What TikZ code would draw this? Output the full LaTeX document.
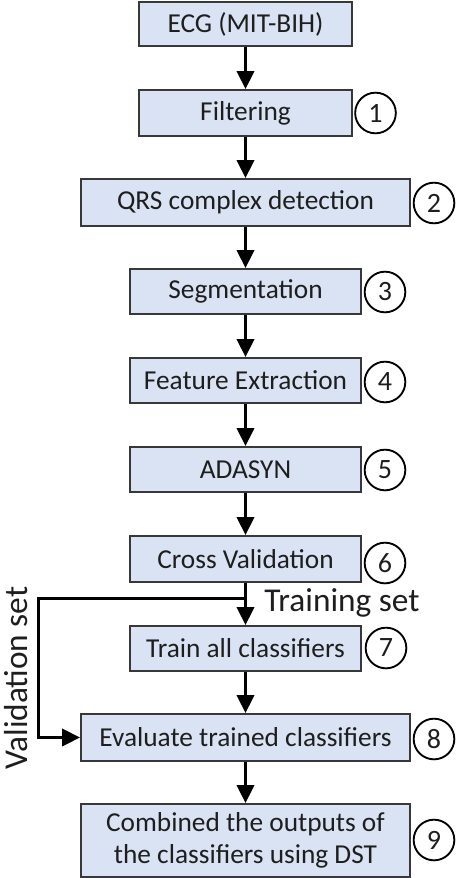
\documentclass[tikz,border=0pt]{standalone}
\usepackage{fontspec}
\setmainfont{Carlito}
\usetikzlibrary{arrows.meta}
\definecolor{boxfill}{HTML}{DAE3F3}
\definecolor{boxline}{HTML}{383838}
\definecolor{txt}{HTML}{1E1E1E}
\tikzset{
  stepbox/.style={draw=boxline, fill=boxfill, line width=1.5pt, inner sep=0pt,
    text=txt, font=\fontsize{20.5pt}{24.5pt}\selectfont, align=center},
  numc/.style={draw=black, circle, line width=1.4pt, minimum size=30.5pt, inner sep=0pt,
    text=txt, font=\fontsize{21pt}{25pt}\selectfont},
  arr/.style={line width=2.25pt, draw=black, -{Triangle[width=13pt,length=13.5pt]}},
  lbl/.style={inner sep=0pt, text=txt, font=\fontsize{25pt}{29pt}\selectfont},
}
\begin{document}
\begin{tikzpicture}[x=0.75pt,y=-0.75pt]
\useasboundingbox (0,0) rectangle (456,878);
\node[stepbox, minimum width=159.75pt, minimum height=33pt] (b0) at (245.5,24) {ECG (MIT-BIH)};
\node[stepbox, minimum width=159.75pt, minimum height=34.5pt] (b1) at (245.5,113) {Filtering};
\node[stepbox, minimum width=246.75pt, minimum height=35.25pt] (b2) at (245.5,202.5) {QRS complex detection};
\node[stepbox, minimum width=173.25pt, minimum height=33.75pt] (b3) at (245.5,291.5) {Segmentation};
\node[stepbox, minimum width=173.25pt, minimum height=33.75pt] (b4) at (245.5,380.5) {Feature Extraction};
\node[stepbox, minimum width=173.25pt, minimum height=33.75pt] (b5) at (245.5,469.5) {ADASYN};
\node[stepbox, minimum width=173.25pt, minimum height=34.5pt] (b6) at (245.5,559) {Cross Validation};
\node[stepbox, minimum width=173.25pt, minimum height=33.75pt] (b7) at (245.5,648.5) {Train all classifiers};
\node[stepbox, minimum width=246.75pt, minimum height=35.25pt] (b8) at (245.5,737.5) {Evaluate trained classifiers};
\node[stepbox, minimum width=246.75pt, minimum height=54.75pt] (b9) at (245.5,840.5) {Combined the outputs of\\the classifiers using DST};
\node[numc] (c1) at (375.5,113) {1};
\node[numc] (c2) at (434,203) {2};
\node[numc] (c3) at (385,292) {3};
\node[numc] (c4) at (385,382) {4};
\node[numc] (c5) at (385,470) {5};
\node[numc] (c6) at (385,563) {6};
\node[numc] (c7) at (386,648) {7};
\node[numc] (c8) at (434,739) {8};
\node[numc] (c9) at (434,840) {9};
\draw[arr] (b0) -- (b1);
\draw[arr] (b1) -- (b2);
\draw[arr] (b2) -- (b3);
\draw[arr] (b3) -- (b4);
\draw[arr] (b4) -- (b5);
\draw[arr] (b5) -- (b6);
\draw[arr] (b6) -- (b7);
\draw[arr] (b7) -- (b8);
\draw[arr] (b8) -- (b9);
\coordinate (split) at (245.5,598);
\coordinate (vl) at (38,598);
\draw[arr] (split) -- (vl) |- (b8.west);
\node[lbl, anchor=west] (tr) at (264,603) {Training set};
\node[lbl, rotate=90] (vs) at (16,678) {Validation set};
\end{tikzpicture}
\end{document}
